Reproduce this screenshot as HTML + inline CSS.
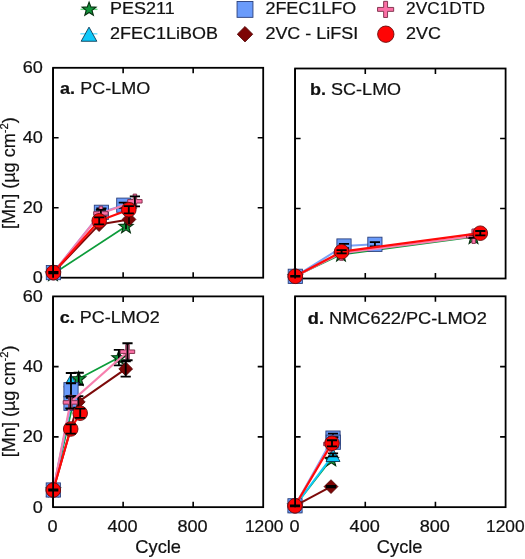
<!DOCTYPE html>
<html lang="en"><head><meta charset="utf-8"><title>Mn dissolution vs cycle</title>
<style>html,body{margin:0;padding:0;background:#fff}body{width:525px;height:559px;overflow:hidden}</style></head>
<body>
<svg width="525" height="559" viewBox="0 0 525 559" style="display:block">
<rect width="525" height="559" fill="#fff"/>
<g font-family='"Liberation Sans", sans-serif' fill="#111" stroke="#111" stroke-width="0.22">
<path d="M123.13 277.70v-5.50M123.13 67.80v5.50M53.10 137.77h5.50M263.20 137.77h-5.50M193.17 277.70v-5.50M193.17 67.80v5.50M53.10 207.73h5.50M263.20 207.73h-5.50" stroke="#000" stroke-width="1.6" fill="none"/>
<rect x="53.10" y="67.80" width="210.10" height="209.90" fill="none" stroke="#000" stroke-width="1.80"/>
<polyline points="53.00,274.00 126.00,226.30" fill="none" stroke="#0c9c3a" stroke-width="1.7" stroke-linejoin="round"/>
<polygon points="53.00,266.95 54.84,271.87 60.09,272.10 55.98,275.37 57.38,280.43 53.00,277.53 48.62,280.43 50.02,275.37 45.91,272.10 51.16,271.87" fill="#12933a" stroke="#06300f" stroke-width="1.1" stroke-linejoin="miter"/>
<path d="M53.00 273.50V274.50M47.90 273.50H58.10M47.90 274.50H58.10" stroke="#000" stroke-width="1.85" fill="none"/>
<polygon points="126.00,219.25 127.84,224.17 133.09,224.40 128.98,227.67 130.38,232.73 126.00,229.83 121.62,232.73 123.02,227.67 118.91,224.40 124.16,224.17" fill="#12933a" stroke="#06300f" stroke-width="1.1" stroke-linejoin="miter"/>
<path d="M126.00 223.50V229.10" stroke="#000" stroke-width="1.6" fill="none"/>
<polyline points="53.40,272.60 101.40,212.30 123.80,205.20" fill="none" stroke="#7da2f5" stroke-width="2.0" stroke-linejoin="round"/>
<rect x="46.30" y="265.50" width="14.20" height="14.20" fill="#6a9bfb" stroke="#2a3f7a" stroke-width="0.9"/>
<path d="M53.40 271.80V273.40M48.30 271.80H58.50M48.30 273.40H58.50" stroke="#000" stroke-width="1.85" fill="none"/>
<rect x="94.30" y="205.20" width="14.20" height="14.20" fill="#6a9bfb" stroke="#2a3f7a" stroke-width="0.9"/>
<path d="M101.40 208.30V216.30M96.30 208.30H106.50M96.30 216.30H106.50" stroke="#000" stroke-width="1.85" fill="none"/>
<rect x="116.70" y="198.10" width="14.20" height="14.20" fill="#6a9bfb" stroke="#2a3f7a" stroke-width="0.9"/>
<path d="M123.80 202.60V207.80M118.70 202.60H128.90M118.70 207.80H128.90" stroke="#000" stroke-width="1.85" fill="none"/>
<polyline points="53.40,272.60 99.10,224.60 129.00,219.40" fill="none" stroke="#7d0a0a" stroke-width="2.0" stroke-linejoin="round"/>
<polygon points="53.40,265.70 60.30,272.60 53.40,279.50 46.50,272.60" fill="#7d0505" stroke="#4a0000" stroke-width="0.8"/>
<path d="M53.40 271.80V273.40M48.30 271.80H58.50M48.30 273.40H58.50" stroke="#000" stroke-width="1.85" fill="none"/>
<polygon points="99.10,217.70 106.00,224.60 99.10,231.50 92.20,224.60" fill="#7d0505" stroke="#4a0000" stroke-width="0.8"/>
<path d="M99.10 221.60V227.60" stroke="#000" stroke-width="1.6" fill="none"/>
<polygon points="129.00,212.50 135.90,219.40 129.00,226.30 122.10,219.40" fill="#7d0505" stroke="#4a0000" stroke-width="0.8"/>
<path d="M129.00 214.90V223.90" stroke="#000" stroke-width="1.6" fill="none"/>
<polyline points="53.40,272.60 100.90,213.40 134.90,201.30" fill="none" stroke="#f77fae" stroke-width="2.1" stroke-linejoin="round"/>
<polygon points="51.65,265.40 55.15,265.40 55.15,270.85 60.60,270.85 60.60,274.35 55.15,274.35 55.15,279.80 51.65,279.80 51.65,274.35 46.20,274.35 46.20,270.85 51.65,270.85" fill="#fb70a6" stroke="#7a2a45" stroke-width="0.9"/>
<path d="M53.40 271.80V273.40M48.30 271.80H58.50M48.30 273.40H58.50" stroke="#000" stroke-width="1.85" fill="none"/>
<polygon points="99.15,206.20 102.65,206.20 102.65,211.65 108.10,211.65 108.10,215.15 102.65,215.15 102.65,220.60 99.15,220.60 99.15,215.15 93.70,215.15 93.70,211.65 99.15,211.65" fill="#fb70a6" stroke="#7a2a45" stroke-width="0.9"/>
<path d="M100.90 209.80V217.00M95.80 209.80H106.00M95.80 217.00H106.00" stroke="#000" stroke-width="1.85" fill="none"/>
<polygon points="133.15,194.10 136.65,194.10 136.65,199.55 142.10,199.55 142.10,203.05 136.65,203.05 136.65,208.50 133.15,208.50 133.15,203.05 127.70,203.05 127.70,199.55 133.15,199.55" fill="#fb70a6" stroke="#7a2a45" stroke-width="0.9"/>
<path d="M134.90 196.30V206.30M129.80 196.30H140.00M129.80 206.30H140.00" stroke="#000" stroke-width="1.85" fill="none"/>
<polyline points="53.40,272.60 99.20,220.80 128.80,209.70" fill="none" stroke="#ff0a0a" stroke-width="2.2" stroke-linejoin="round"/>
<circle cx="53.40" cy="272.60" r="7.30" fill="#ff0505" stroke="#6a0a0a" stroke-width="0.9"/>
<path d="M53.40 271.80V273.40M48.30 271.80H58.50M48.30 273.40H58.50" stroke="#000" stroke-width="1.85" fill="none"/>
<circle cx="99.20" cy="220.80" r="7.30" fill="#ff0505" stroke="#6a0a0a" stroke-width="0.9"/>
<path d="M99.20 217.30V224.30M94.10 217.30H104.30M94.10 224.30H104.30" stroke="#000" stroke-width="1.85" fill="none"/>
<circle cx="128.80" cy="209.70" r="7.30" fill="#ff0505" stroke="#6a0a0a" stroke-width="0.9"/>
<path d="M128.80 206.10V213.30M123.70 206.10H133.90M123.70 213.30H133.90" stroke="#000" stroke-width="1.85" fill="none"/>
<path d="M53.10 67.80V277.70" stroke="#000" stroke-width="1.80"/>
<text transform="translate(60.10 94.40) scale(1.060 1)" text-anchor="start" font-size="17.00" ><tspan font-weight="bold">a.</tspan> PC-LMO</text>
<text transform="translate(42.90 73.05) scale(1.060 1)" text-anchor="end" font-size="17.10" >60</text>
<text transform="translate(42.90 143.02) scale(1.060 1)" text-anchor="end" font-size="17.10" >40</text>
<text transform="translate(42.90 212.98) scale(1.060 1)" text-anchor="end" font-size="17.10" >20</text>
<text transform="translate(42.90 282.95) scale(1.060 1)" text-anchor="end" font-size="17.10" >0</text>
<path d="M365.27 278.50v-5.50M365.27 68.50v5.50M295.10 138.50h5.50M505.60 138.50h-5.50M435.43 278.50v-5.50M435.43 68.50v5.50M295.10 208.50h5.50M505.60 208.50h-5.50" stroke="#000" stroke-width="1.6" fill="none"/>
<rect x="295.10" y="68.50" width="210.50" height="210.00" fill="none" stroke="#000" stroke-width="1.80"/>
<polyline points="295.30,276.30 341.00,254.60 473.50,237.00" fill="none" stroke="#0c9c3a" stroke-width="1.7" stroke-linejoin="round"/>
<polygon points="295.30,269.25 297.14,274.17 302.39,274.40 298.28,277.67 299.68,282.73 295.30,279.83 290.92,282.73 292.32,277.67 288.21,274.40 293.46,274.17" fill="#12933a" stroke="#06300f" stroke-width="1.1" stroke-linejoin="miter"/>
<path d="M295.30 276.00V276.60M290.20 276.00H300.40M290.20 276.60H300.40" stroke="#000" stroke-width="1.85" fill="none"/>
<polygon points="341.00,247.55 342.84,252.47 348.09,252.70 343.98,255.97 345.38,261.03 341.00,258.13 336.62,261.03 338.02,255.97 333.91,252.70 339.16,252.47" fill="#12933a" stroke="#06300f" stroke-width="1.1" stroke-linejoin="miter"/>
<path d="M341.00 253.60V255.60M335.90 253.60H346.10M335.90 255.60H346.10" stroke="#000" stroke-width="1.85" fill="none"/>
<polygon points="473.50,229.95 475.34,234.87 480.59,235.10 476.48,238.37 477.88,243.43 473.50,240.53 469.12,243.43 470.52,238.37 466.41,235.10 471.66,234.87" fill="#12933a" stroke="#06300f" stroke-width="1.1" stroke-linejoin="miter"/>
<path d="M473.50 236.00V238.00M468.40 236.00H478.60M468.40 238.00H478.60" stroke="#000" stroke-width="1.85" fill="none"/>
<polyline points="295.30,276.30 344.00,246.00 374.90,244.30" fill="none" stroke="#7da2f5" stroke-width="2.0" stroke-linejoin="round"/>
<rect x="288.20" y="269.20" width="14.20" height="14.20" fill="#6a9bfb" stroke="#2a3f7a" stroke-width="0.9"/>
<path d="M295.30 276.00V276.60M290.20 276.00H300.40M290.20 276.60H300.40" stroke="#000" stroke-width="1.85" fill="none"/>
<rect x="336.90" y="238.90" width="14.20" height="14.20" fill="#6a9bfb" stroke="#2a3f7a" stroke-width="0.9"/>
<path d="M344.00 243.80V248.20M338.90 243.80H349.10M338.90 248.20H349.10" stroke="#000" stroke-width="1.85" fill="none"/>
<rect x="367.80" y="237.20" width="14.20" height="14.20" fill="#6a9bfb" stroke="#2a3f7a" stroke-width="0.9"/>
<path d="M374.90 242.10V246.50M369.80 242.10H380.00M369.80 246.50H380.00" stroke="#000" stroke-width="1.85" fill="none"/>
<polyline points="295.30,276.30 341.30,253.10 473.70,236.20" fill="none" stroke="#f77fae" stroke-width="2.1" stroke-linejoin="round"/>
<polygon points="293.55,269.10 297.05,269.10 297.05,274.55 302.50,274.55 302.50,278.05 297.05,278.05 297.05,283.50 293.55,283.50 293.55,278.05 288.10,278.05 288.10,274.55 293.55,274.55" fill="#fb70a6" stroke="#7a2a45" stroke-width="0.9"/>
<path d="M295.30 276.00V276.60M290.20 276.00H300.40M290.20 276.60H300.40" stroke="#000" stroke-width="1.85" fill="none"/>
<polygon points="339.55,245.90 343.05,245.90 343.05,251.35 348.50,251.35 348.50,254.85 343.05,254.85 343.05,260.30 339.55,260.30 339.55,254.85 334.10,254.85 334.10,251.35 339.55,251.35" fill="#fb70a6" stroke="#7a2a45" stroke-width="0.9"/>
<path d="M341.30 252.10V254.10M336.20 252.10H346.40M336.20 254.10H346.40" stroke="#000" stroke-width="1.85" fill="none"/>
<polygon points="471.95,229.00 475.45,229.00 475.45,234.45 480.90,234.45 480.90,237.95 475.45,237.95 475.45,243.40 471.95,243.40 471.95,237.95 466.50,237.95 466.50,234.45 471.95,234.45" fill="#fb70a6" stroke="#7a2a45" stroke-width="0.9"/>
<path d="M473.70 234.70V237.70M468.60 234.70H478.80M468.60 237.70H478.80" stroke="#000" stroke-width="1.85" fill="none"/>
<polyline points="295.30,276.30 341.60,251.70 480.30,233.20" fill="none" stroke="#ff0a0a" stroke-width="2.2" stroke-linejoin="round"/>
<circle cx="295.30" cy="276.30" r="7.30" fill="#ff0505" stroke="#6a0a0a" stroke-width="0.9"/>
<path d="M295.30 276.00V276.60M290.20 276.00H300.40M290.20 276.60H300.40" stroke="#000" stroke-width="1.85" fill="none"/>
<circle cx="341.60" cy="251.70" r="7.30" fill="#ff0505" stroke="#6a0a0a" stroke-width="0.9"/>
<path d="M341.60 250.10V253.30M336.50 250.10H346.70M336.50 253.30H346.70" stroke="#000" stroke-width="1.85" fill="none"/>
<circle cx="480.30" cy="233.20" r="7.30" fill="#ff0505" stroke="#6a0a0a" stroke-width="0.9"/>
<path d="M480.30 231.00V235.40M475.20 231.00H485.40M475.20 235.40H485.40" stroke="#000" stroke-width="1.85" fill="none"/>
<path d="M295.10 68.50V278.50" stroke="#000" stroke-width="1.80"/>
<text transform="translate(310.10 95.10) scale(1.060 1)" text-anchor="start" font-size="17.00" ><tspan font-weight="bold">b.</tspan> SC-LMO</text>
<text transform="translate(14.90 173.10) rotate(-90) scale(0.972 1)" text-anchor="middle" font-size="18.60" >[Mn] (µg cm<tspan font-size="11.6" dy="-6.6">-2</tspan><tspan dy="6.6">)</tspan></text>
<path d="M123.13 507.15v-5.50M123.13 296.40v5.50M53.10 366.65h5.50M263.20 366.65h-5.50M193.17 507.15v-5.50M193.17 296.40v5.50M53.10 436.90h5.50M263.20 436.90h-5.50" stroke="#000" stroke-width="1.6" fill="none"/>
<rect x="53.10" y="296.40" width="210.10" height="210.75" fill="none" stroke="#000" stroke-width="1.80"/>
<polyline points="53.30,490.00 78.70,378.70 118.90,357.60" fill="none" stroke="#0c9c3a" stroke-width="1.7" stroke-linejoin="round"/>
<polygon points="53.30,482.95 55.14,487.87 60.39,488.10 56.28,491.37 57.68,496.43 53.30,493.53 48.92,496.43 50.32,491.37 46.21,488.10 51.46,487.87" fill="#12933a" stroke="#06300f" stroke-width="1.1" stroke-linejoin="miter"/>
<path d="M53.30 489.50V490.50M48.20 489.50H58.40M48.20 490.50H58.40" stroke="#000" stroke-width="1.85" fill="none"/>
<polygon points="78.70,371.65 80.54,376.57 85.79,376.80 81.68,380.07 83.08,385.13 78.70,382.23 74.32,385.13 75.72,380.07 71.61,376.80 76.86,376.57" fill="#12933a" stroke="#06300f" stroke-width="1.1" stroke-linejoin="miter"/>
<path d="M78.70 372.70V384.70M73.60 372.70H83.80M73.60 384.70H83.80" stroke="#000" stroke-width="1.85" fill="none"/>
<polygon points="118.90,350.55 120.74,355.47 125.99,355.70 121.88,358.97 123.28,364.03 118.90,361.13 114.52,364.03 115.92,358.97 111.81,355.70 117.06,355.47" fill="#12933a" stroke="#06300f" stroke-width="1.1" stroke-linejoin="miter"/>
<path d="M118.90 349.90V365.30M113.80 349.90H124.00M113.80 365.30H124.00" stroke="#000" stroke-width="1.85" fill="none"/>
<polyline points="53.30,490.00 71.00,403.00 70.90,380.80" fill="none" stroke="#10c8f8" stroke-width="2.0" stroke-linejoin="round"/>
<polygon points="53.30,483.70 60.30,496.30 46.30,496.30" fill="#0cc8fa" stroke="#0a3a55" stroke-width="0.9"/>
<path d="M53.30 489.50V490.50M48.20 489.50H58.40M48.20 490.50H58.40" stroke="#000" stroke-width="1.85" fill="none"/>
<polygon points="70.90,374.50 77.90,387.10 63.90,387.10" fill="#0cc8fa" stroke="#0a3a55" stroke-width="0.9"/>
<path d="M70.90 373.00V393.00M65.80 373.00H76.00M65.80 393.00H76.00" stroke="#000" stroke-width="1.85" fill="none"/>
<polyline points="53.30,490.00 71.00,403.30 71.00,389.70" fill="none" stroke="#7da2f5" stroke-width="2.0" stroke-linejoin="round"/>
<rect x="46.20" y="482.90" width="14.20" height="14.20" fill="#6a9bfb" stroke="#2a3f7a" stroke-width="0.9"/>
<path d="M53.30 489.50V490.50M48.20 489.50H58.40M48.20 490.50H58.40" stroke="#000" stroke-width="1.85" fill="none"/>
<rect x="63.90" y="396.20" width="14.20" height="14.20" fill="#6a9bfb" stroke="#2a3f7a" stroke-width="0.9"/>
<path d="M71.00 397.80V408.80M65.90 397.80H76.10M65.90 408.80H76.10" stroke="#000" stroke-width="1.85" fill="none"/>
<rect x="63.90" y="382.60" width="14.20" height="14.20" fill="#6a9bfb" stroke="#2a3f7a" stroke-width="0.9"/>
<path d="M71.00 383.20V396.20M65.90 383.20H76.10M65.90 396.20H76.10" stroke="#000" stroke-width="1.85" fill="none"/>
<polyline points="53.30,490.00 78.30,401.90 125.70,368.90" fill="none" stroke="#7d0a0a" stroke-width="2.0" stroke-linejoin="round"/>
<polygon points="53.30,483.10 60.20,490.00 53.30,496.90 46.40,490.00" fill="#7d0505" stroke="#4a0000" stroke-width="0.8"/>
<path d="M53.30 489.50V490.50M48.20 489.50H58.40M48.20 490.50H58.40" stroke="#000" stroke-width="1.85" fill="none"/>
<polygon points="78.60,395.30 85.20,401.90 78.60,408.50" fill="#7d0505" stroke="#4a0000" stroke-width="0.8"/>
<path d="M78.30 396.10V407.70M73.20 396.10H83.40M73.20 407.70H83.40" stroke="#000" stroke-width="1.85" fill="none"/>
<polygon points="125.70,362.00 132.60,368.90 125.70,375.80 118.80,368.90" fill="#7d0505" stroke="#4a0000" stroke-width="0.8"/>
<path d="M125.70 361.20V376.60M120.60 361.20H130.80M120.60 376.60H130.80" stroke="#000" stroke-width="1.85" fill="none"/>
<polyline points="53.30,490.00 70.40,402.40 127.50,351.70" fill="none" stroke="#f77fae" stroke-width="2.1" stroke-linejoin="round"/>
<polygon points="51.55,482.80 55.05,482.80 55.05,488.25 60.50,488.25 60.50,491.75 55.05,491.75 55.05,497.20 51.55,497.20 51.55,491.75 46.10,491.75 46.10,488.25 51.55,488.25" fill="#fb70a6" stroke="#7a2a45" stroke-width="0.9"/>
<path d="M53.30 489.50V490.50M48.20 489.50H58.40M48.20 490.50H58.40" stroke="#000" stroke-width="1.85" fill="none"/>
<polygon points="68.65,395.20 72.15,395.20 72.15,400.65 77.60,400.65 77.60,404.15 72.15,404.15 72.15,409.60 68.65,409.60 68.65,404.15 63.20,404.15 63.20,400.65 68.65,400.65" fill="#fb70a6" stroke="#7a2a45" stroke-width="0.9"/>
<path d="M70.40 396.40V408.40M65.30 396.40H75.50M65.30 408.40H75.50" stroke="#000" stroke-width="1.85" fill="none"/>
<polygon points="125.75,344.50 129.25,344.50 129.25,349.95 134.70,349.95 134.70,353.45 129.25,353.45 129.25,358.90 125.75,358.90 125.75,353.45 120.30,353.45 120.30,349.95 125.75,349.95" fill="#fb70a6" stroke="#7a2a45" stroke-width="0.9"/>
<path d="M127.50 343.20V360.20M122.40 343.20H132.60M122.40 360.20H132.60" stroke="#000" stroke-width="1.85" fill="none"/>
<polyline points="53.30,490.00 70.70,429.00 80.20,413.20" fill="none" stroke="#ff0a0a" stroke-width="2.2" stroke-linejoin="round"/>
<circle cx="53.30" cy="490.00" r="7.30" fill="#ff0505" stroke="#6a0a0a" stroke-width="0.9"/>
<path d="M53.30 489.50V490.50M48.20 489.50H58.40M48.20 490.50H58.40" stroke="#000" stroke-width="1.85" fill="none"/>
<circle cx="70.70" cy="429.00" r="7.30" fill="#ff0505" stroke="#6a0a0a" stroke-width="0.9"/>
<path d="M70.70 424.40V433.60M65.60 424.40H75.80M65.60 433.60H75.80" stroke="#000" stroke-width="1.85" fill="none"/>
<circle cx="80.20" cy="413.20" r="7.30" fill="#ff0505" stroke="#6a0a0a" stroke-width="0.9"/>
<path d="M80.20 408.60V417.80M75.10 408.60H85.30M75.10 417.80H85.30" stroke="#000" stroke-width="1.85" fill="none"/>
<path d="M53.10 296.40V507.15" stroke="#000" stroke-width="1.80"/>
<text transform="translate(59.70 323.40) scale(1.060 1)" text-anchor="start" font-size="17.00" ><tspan font-weight="bold">c.</tspan> PC-LMO2</text>
<text transform="translate(42.90 301.90) scale(1.060 1)" text-anchor="end" font-size="17.10" >60</text>
<text transform="translate(42.90 372.15) scale(1.060 1)" text-anchor="end" font-size="17.10" >40</text>
<text transform="translate(42.90 442.40) scale(1.060 1)" text-anchor="end" font-size="17.10" >20</text>
<text transform="translate(42.90 512.65) scale(1.060 1)" text-anchor="end" font-size="17.10" >0</text>
<text transform="translate(52.50 531.85) scale(1.060 1)" text-anchor="middle" font-size="17.10" >0</text>
<text transform="translate(122.53 531.85) scale(1.060 1)" text-anchor="middle" font-size="17.10" >400</text>
<text transform="translate(192.57 531.85) scale(1.060 1)" text-anchor="middle" font-size="17.10" >800</text>
<text transform="translate(264.20 531.85) scale(1.015 1)" text-anchor="middle" font-size="17.10" >1200</text>
<text transform="translate(158.15 552.65) scale(1.015 1)" text-anchor="middle" font-size="18.00" >Cycle</text>
<path d="M365.27 507.15v-5.50M365.27 296.30v5.50M295.10 366.58h5.50M505.60 366.58h-5.50M435.43 507.15v-5.50M435.43 296.30v5.50M295.10 436.87h5.50M505.60 436.87h-5.50" stroke="#000" stroke-width="1.6" fill="none"/>
<rect x="295.10" y="296.30" width="210.50" height="210.85" fill="none" stroke="#000" stroke-width="1.80"/>
<polyline points="295.00,505.80 331.30,459.30" fill="none" stroke="#0c9c3a" stroke-width="1.7" stroke-linejoin="round"/>
<polygon points="295.00,498.75 296.84,503.67 302.09,503.90 297.98,507.17 299.38,512.23 295.00,509.33 290.62,512.23 292.02,507.17 287.91,503.90 293.16,503.67" fill="#12933a" stroke="#06300f" stroke-width="1.1" stroke-linejoin="miter"/>
<path d="M295.00 505.30V506.30M289.90 505.30H300.10M289.90 506.30H300.10" stroke="#000" stroke-width="1.85" fill="none"/>
<polygon points="331.30,452.25 333.14,457.17 338.39,457.40 334.28,460.67 335.68,465.73 331.30,462.83 326.92,465.73 328.32,460.67 324.21,457.40 329.46,457.17" fill="#12933a" stroke="#06300f" stroke-width="1.1" stroke-linejoin="miter"/>
<path d="M331.30 457.80V460.80M326.20 457.80H336.40M326.20 460.80H336.40" stroke="#000" stroke-width="1.85" fill="none"/>
<polyline points="295.00,505.80 333.00,455.20" fill="none" stroke="#10c8f8" stroke-width="2.0" stroke-linejoin="round"/>
<polygon points="295.00,499.50 302.00,512.10 288.00,512.10" fill="#0cc8fa" stroke="#0a3a55" stroke-width="0.9"/>
<path d="M295.00 505.30V506.30M289.90 505.30H300.10M289.90 506.30H300.10" stroke="#000" stroke-width="1.85" fill="none"/>
<polygon points="333.00,448.90 340.00,461.50 326.00,461.50" fill="#0cc8fa" stroke="#0a3a55" stroke-width="0.9"/>
<path d="M333.00 453.30V456.30M327.90 453.30H338.10M327.90 456.30H338.10" stroke="#000" stroke-width="1.85" fill="none"/>
<polyline points="295.00,505.80 333.00,438.10 333.30,442.20" fill="none" stroke="#7da2f5" stroke-width="2.0" stroke-linejoin="round"/>
<rect x="287.90" y="498.70" width="14.20" height="14.20" fill="#6a9bfb" stroke="#2a3f7a" stroke-width="0.9"/>
<path d="M295.00 505.30V506.30M289.90 505.30H300.10M289.90 506.30H300.10" stroke="#000" stroke-width="1.85" fill="none"/>
<rect x="325.90" y="431.00" width="14.20" height="14.20" fill="#6a9bfb" stroke="#2a3f7a" stroke-width="0.9"/>
<path d="M333.00 433.60V442.60M327.90 433.60H338.10M327.90 442.60H338.10" stroke="#000" stroke-width="1.85" fill="none"/>
<rect x="326.20" y="435.10" width="14.20" height="14.20" fill="#6a9bfb" stroke="#2a3f7a" stroke-width="0.9"/>
<path d="M333.30 437.20V447.20M328.20 437.20H338.40M328.20 447.20H338.40" stroke="#000" stroke-width="1.85" fill="none"/>
<polyline points="295.00,505.80 331.00,486.60" fill="none" stroke="#7d0a0a" stroke-width="2.0" stroke-linejoin="round"/>
<polygon points="295.00,498.90 301.90,505.80 295.00,512.70 288.10,505.80" fill="#7d0505" stroke="#4a0000" stroke-width="0.8"/>
<path d="M295.00 505.30V506.30M289.90 505.30H300.10M289.90 506.30H300.10" stroke="#000" stroke-width="1.85" fill="none"/>
<polygon points="331.00,479.70 337.90,486.60 331.00,493.50 324.10,486.60" fill="#7d0505" stroke="#4a0000" stroke-width="0.8"/>
<path d="M331.00 485.80V487.40M325.90 485.80H336.10M325.90 487.40H336.10" stroke="#000" stroke-width="1.85" fill="none"/>
<polyline points="295.00,505.80 330.90,444.00" fill="none" stroke="#f77fae" stroke-width="2.1" stroke-linejoin="round"/>
<polygon points="293.25,498.60 296.75,498.60 296.75,504.05 302.20,504.05 302.20,507.55 296.75,507.55 296.75,513.00 293.25,513.00 293.25,507.55 287.80,507.55 287.80,504.05 293.25,504.05" fill="#fb70a6" stroke="#7a2a45" stroke-width="0.9"/>
<path d="M295.00 505.30V506.30M289.90 505.30H300.10M289.90 506.30H300.10" stroke="#000" stroke-width="1.85" fill="none"/>
<polygon points="329.15,436.80 332.65,436.80 332.65,442.25 338.10,442.25 338.10,445.75 332.65,445.75 332.65,451.20 329.15,451.20 329.15,445.75 323.70,445.75 323.70,442.25 329.15,442.25" fill="#fb70a6" stroke="#7a2a45" stroke-width="0.9"/>
<path d="M330.90 443.00V445.00M325.80 443.00H336.00M325.80 445.00H336.00" stroke="#000" stroke-width="1.85" fill="none"/>
<polyline points="295.00,505.80 332.00,443.30" fill="none" stroke="#ff0a0a" stroke-width="2.2" stroke-linejoin="round"/>
<circle cx="295.00" cy="505.80" r="7.30" fill="#ff0505" stroke="#6a0a0a" stroke-width="0.9"/>
<path d="M295.00 505.30V506.30M289.90 505.30H300.10M289.90 506.30H300.10" stroke="#000" stroke-width="1.85" fill="none"/>
<circle cx="332.00" cy="443.30" r="7.30" fill="#ff0505" stroke="#6a0a0a" stroke-width="0.9"/>
<path d="M332.00 440.20V446.40M326.90 440.20H337.10M326.90 446.40H337.10" stroke="#000" stroke-width="1.85" fill="none"/>
<path d="M295.10 296.30V507.15" stroke="#000" stroke-width="1.80"/>
<text transform="translate(307.80 323.50) scale(1.072 1)" text-anchor="start" font-size="17.00" ><tspan font-weight="bold">d.</tspan> NMC622/PC-LMO2</text>
<text transform="translate(294.50 531.85) scale(1.060 1)" text-anchor="middle" font-size="17.10" >0</text>
<text transform="translate(364.67 531.85) scale(1.060 1)" text-anchor="middle" font-size="17.10" >400</text>
<text transform="translate(434.83 531.85) scale(1.060 1)" text-anchor="middle" font-size="17.10" >800</text>
<text transform="translate(505.30 531.85) scale(1.015 1)" text-anchor="middle" font-size="17.10" >1200</text>
<text transform="translate(399.65 552.65) scale(1.015 1)" text-anchor="middle" font-size="18.00" >Cycle</text>
<text transform="translate(14.90 401.33) rotate(-90) scale(0.972 1)" text-anchor="middle" font-size="18.60" >[Mn] (µg cm<tspan font-size="11.6" dy="-6.6">-2</tspan><tspan dy="6.6">)</tspan></text>
<path d="M80.50 9.35H97.50" stroke="#66dd80" stroke-width="1.4"/>
<polygon points="89.10,2.09 90.90,6.91 96.04,7.14 92.02,10.34 93.39,15.30 89.10,12.46 84.81,15.30 86.18,10.34 82.16,7.14 87.30,6.91" fill="#12933a" stroke="#06300f" stroke-width="1.1" stroke-linejoin="miter"/>
<text transform="translate(110.10 14.30) scale(1.070 1)" text-anchor="start" font-size="16.80" >PES211</text>
<path d="M80.40 33.80H97.40" stroke="#66dcff" stroke-width="1.4"/>
<polygon points="89.00,27.14 96.84,41.26 81.16,41.26" fill="#0cc8fa" stroke="#0a3a55" stroke-width="0.9"/>
<text transform="translate(110.10 39.35) scale(1.070 1)" text-anchor="start" font-size="16.80" >2FEC1LiBOB</text>
<rect x="237.05" y="1.45" width="15.90" height="15.90" fill="#6a9bfb" stroke="#2a3f7a" stroke-width="0.9"/>
<text transform="translate(265.40 14.30) scale(1.070 1)" text-anchor="start" font-size="16.80" >2FEC1LFO</text>
<polygon points="245.00,26.47 252.73,34.20 245.00,41.93 237.27,34.20" fill="#7d0505" stroke="#4a0000" stroke-width="0.8"/>
<text transform="translate(265.40 39.35) scale(1.070 1)" text-anchor="start" font-size="16.80" >2VC - LiFSI</text>
<polygon points="383.64,1.34 387.56,1.34 387.56,7.44 393.66,7.44 393.66,11.36 387.56,11.36 387.56,17.46 383.64,17.46 383.64,11.36 377.54,11.36 377.54,7.44 383.64,7.44" fill="#fb70a6" stroke="#7a2a45" stroke-width="0.9"/>
<text transform="translate(406.10 14.30) scale(1.030 1)" text-anchor="start" font-size="16.80" >2VC1DTD</text>
<circle cx="385.80" cy="34.20" r="8.18" fill="#ff0505" stroke="#6a0a0a" stroke-width="0.9"/>
<text transform="translate(406.10 39.35) scale(1.070 1)" text-anchor="start" font-size="16.80" >2VC</text>
</g>
</svg>
</body></html>
